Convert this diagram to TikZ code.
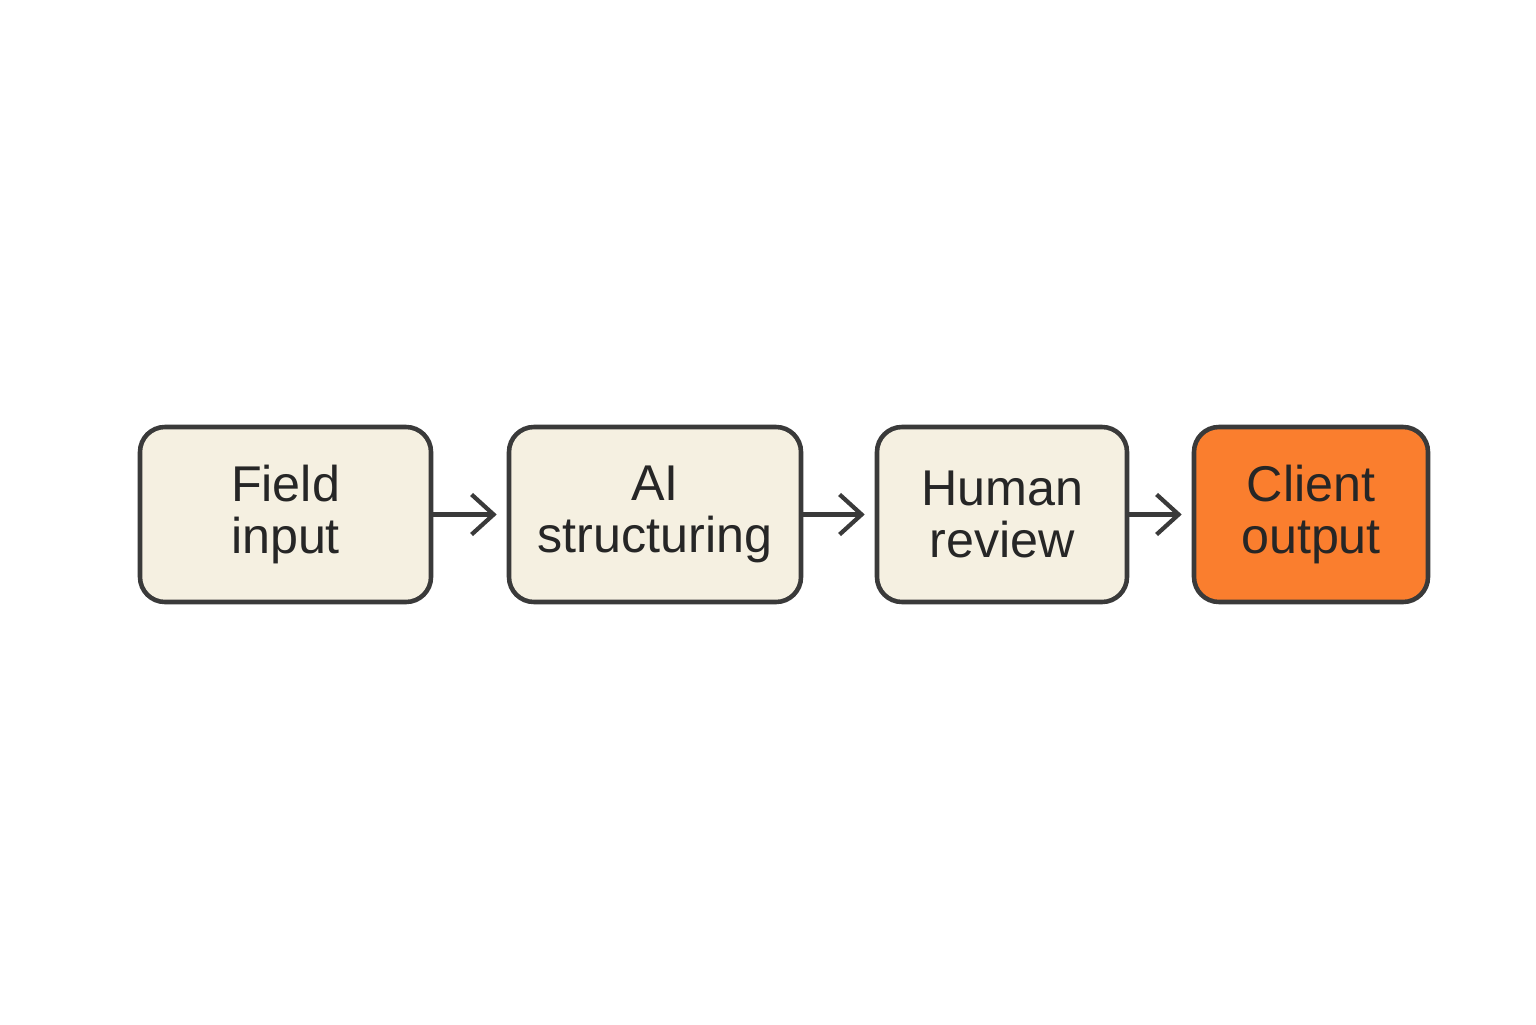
\documentclass[tikz,border=0pt]{standalone}
\usepackage{fontspec}
\setmainfont{Liberation Sans}
\usetikzlibrary{arrows.meta, positioning}
\definecolor{cream}{HTML}{F5F0E1}
\definecolor{flame}{HTML}{FA7E2E}
\definecolor{ink}{HTML}{3A3A3A}
\tikzset{
  stage/.style={draw=ink, line width=1.3pt, rounded corners=0.25cm, fill=cream,
    minimum height=1.75cm, align=center, font=\fontsize{14.3}{15}\selectfont, text=black!85},
  flow/.style={draw=ink, line width=1.2pt, -{Straight Barb[length=2.2mm, width=4mm, line width=1.2pt]}, shorten >=0.1cm}
}
\begin{document}
\begin{tikzpicture}
  \useasboundingbox (0,0) rectangle (15.36,10.24);

  \node[stage, minimum width=2.91cm] (field) at (2.855,5.095) {Field\\input};
  \node[stage, minimum width=2.92cm] (ai) at (6.55,5.095) {AI\\structuring};
  \node[stage, minimum width=2.50cm] (human) at (10.02,5.095) {Human\\review};
  \node[stage, minimum width=2.34cm, fill=flame] (client) at (13.11,5.095) {Client\\output};

  \draw[flow] (field) -- (ai);
  \draw[flow] (ai) -- (human);
  \draw[flow] (human) -- (client);
\end{tikzpicture}
\end{document}
